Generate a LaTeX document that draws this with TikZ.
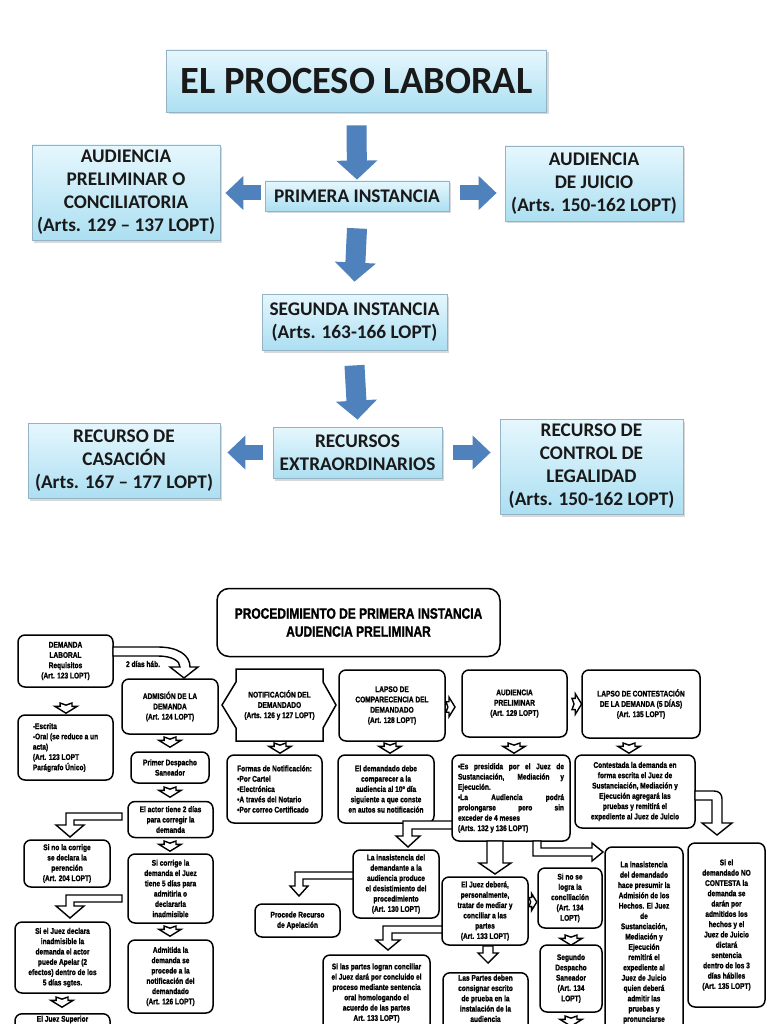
\documentclass[tikz,border=0pt]{standalone}
\usepackage{fontspec}
\setmainfont{Carlito}
\newfontfamily\nar[FakeStretch=0.8, BoldFont={Liberation Sans Bold}, BoldFeatures={FakeStretch=0.8, FakeBold=1.3}]{Liberation Sans}
\usetikzlibrary{arrows.meta,calc,shadows}
\definecolor{boxtop}{HTML}{E6F7FD}
\definecolor{boxbot}{HTML}{ACDFF2}
\definecolor{boxedge}{HTML}{94B3C4}
\definecolor{arrblue}{HTML}{4F81BD}
\newcommand\narr[3]{\draw[harr, shift={(#1)}, rotate=#2, scale=#3] (-7,0) -- (0,2.5) -- (7,0) -- (7,4) -- (13,4) -- (0,12) -- (-13,4) -- (-7,4) -- cycle;}
\begin{document}
\begin{tikzpicture}[x=1pt,y=-1pt,
  tbox/.style={draw=boxedge, line width=0.8pt, top color=boxtop, bottom color=boxbot, align=center, inner sep=2pt,
    drop shadow={shadow xshift=2pt,shadow yshift=-2.5pt,opacity=0.3},
    font=\bfseries\fontsize{19.3}{23}\selectfont, text=black!90},
  tb/.style 2 args={tbox, minimum width=#1, minimum height=#2},
  vblue/.style={draw=arrblue, line width=20pt, -{Triangle[width=40pt,length=19pt]}},
  hblue/.style={draw=arrblue, line width=15pt, -{Triangle[width=33pt,length=18pt]}},
  bodyf/.style={font=\nar\bfseries\fontsize{8.2}{10.3}\selectfont},
  rb/.style={draw, line width=1.5pt, rounded corners=7pt, fill=white, align=center, inner sep=2pt, bodyf},
  bx/.style 2 args={rb, minimum width=#1, minimum height=#2},
  harr/.style={draw, line width=1.4pt, fill=white, line join=miter},
  shapeline/.style={draw, line width=1.5pt, fill=white, line join=miter}
]
\useasboundingbox (0,0) rectangle (768,1024);
\clip (0,0) rectangle (768,1024);
\fill[white] (0,0) rectangle (768,1024);

% ---------------- upper diagram ----------------
\node[tb={380pt}{62pt}, font=\bfseries\fontsize{38.5}{44}\selectfont] (title) at (356.5,81) {EL PROCESO LABORAL};
\node[tb={184pt}{30pt}] (prim) at (357,196) {PRIMERA INSTANCIA};
\node[tb={188pt}{95pt}] (aud1) at (126,192.5) {AUDIENCIA\\PRELIMINAR O\\CONCILIATORIA\\(Arts. 129 – 137 LOPT)};
\node[tb={178pt}{75pt}] (aud2) at (594,183.5) {AUDIENCIA\\DE JUICIO\\(Arts. 150-162 LOPT)};
\node[tb={185pt}{56pt}] (seg) at (354.5,322) {SEGUNDA INSTANCIA\\(Arts. 163-166 LOPT)};
\node[tb={169pt}{51pt}] (rec) at (357.5,452.5) {RECURSOS\\EXTRAORDINARIOS};
\node[tb={192pt}{75pt}] (cas) at (124,460.5) {RECURSO DE\\CASACIÓN\\(Arts. 167 – 177 LOPT)};
\node[tb={183pt}{95pt}] (ctrl) at (591.5,466.5) {RECURSO DE\\CONTROL DE\\LEGALIDAD\\(Arts. 150-162 LOPT)};

\draw[vblue] ($(title.south)+(0,13)$) -- ($(prim.north)+(0,-1)$);
\draw[hblue] ($(prim.west)+(-4,-3)$) -- ($(prim.west -| aud1.east)+(5,-3)$);
\draw[hblue] ($(prim.east)+(11,-3)$) -- ($(prim.east -| aud2.west)+(-8,-3)$);
\draw[vblue] ($(prim.south)+(0,17)$) -- ($(seg.north)+(0,-12)$);
\draw[vblue] ($(seg.south)+(0,15)$) -- ($(rec.north)+(0,-7)$);
\draw[hblue] ($(rec.west)+(-10,0)$) -- ($(rec.west -| cas.east)+(7,0)$);
\draw[hblue] ($(rec.east)+(11,0)$) -- ($(rec.east -| ctrl.west)+(-9,0)$);

% ---------------- lower diagram ----------------
\node[rb, minimum width=283pt, minimum height=68pt, rounded corners=12pt,
  font=\nar\bfseries\fontsize{15}{18}\selectfont] (ptitle) at (358.5,622.5)
  {PROCEDIMIENTO DE PRIMERA INSTANCIA\\AUDIENCIA PRELIMINAR};

\node[bx={95pt}{52pt}] (dem) at (65.5,661) {DEMANDA\\LABORAL\\Requisitos\\(Art. 123 LOPT)};
\node[bx={96pt}{55pt}] (adm) at (170,706.5) {ADMISIÓN DE LA\\DEMANDA\\(Art. 124 LOPT)};
\node[bx={95pt}{65pt}, align=left] (escr) at (65.5,747.5) {-Escrita\\-Oral (se reduce a un\\acta)\\(Art. 123 LOPT\\Parágrafo Único)};
\node[bx={78pt}{31pt}] (pds) at (170,767.5) {Primer Despacho\\Saneador};
\node[bx={85pt}{36pt}] (actor) at (170.5,819.5) {El actor tiene 2 días\\para corregir la\\demanda};
\node[bx={86pt}{47pt}] (sinocorr) at (67,863.5) {Si no la corrige\\se declara la\\perención\\(Art. 204 LOPT)};
\node[bx={85pt}{69pt}] (sicorr) at (170.5,888.5) {Si corrige la\\demanda el Juez\\tiene 5 días para\\admitirla o\\declararla\\inadmisible};
\node[bx={95pt}{71pt}] (sijuez) at (62.5,957.5) {Si el Juez declara\\inadmisible la\\demanda el actor\\puede Apelar (2\\efectos) dentro de los\\5 días sgtes.};
\node[bx={85pt}{73pt}] (admitida) at (170.5,976.5) {Admitida la\\demanda se\\procede a la\\notificación del\\demandado\\(Art. 126 LOPT)};
\node[rb, minimum width=95pt, anchor=north] (juezsup) at (62.5,1013) {El Juez Superior\\\rule{0pt}{30pt}};

\node[bodyf] (lbl) at (143,664) {2 días háb.};
\draw[harr] (113,647) -- (158,647) .. controls (178,647) and (190,655) .. (190,667) -- (198,667) -- (184,678) -- (170,667) -- (180,667) .. controls (180,661) and (172,656) .. (158,656) -- (113,656) -- cycle;

% notification double arrow
\coordinate (nc) at (279.5,705);
\draw[shapeline] (nc) ++(-43.5,-36) -- ++(87,0) -- ++(0,13) -- ++(13,23) -- ++(-13,23) -- ++(0,13) -- ++(-87,0) -- ++(0,-13) -- ++(-14,-23) -- ++(14,-23) -- cycle;
\node[align=center, bodyf] (notif) at (nc) {NOTIFICACIÓN DEL\\DEMANDADO\\(Arts. 126 y 127 LOPT)};

\node[bx={106pt}{71pt}] (lcomp) at (392,705.5) {LAPSO DE\\COMPARECENCIA DEL\\DEMANDADO\\(Art. 128 LOPT)};
\node[bx={105pt}{67pt}] (audp) at (514.5,703.5) {AUDIENCIA\\PRELIMINAR\\(Art. 129 LOPT)};
\node[bx={118pt}{68pt}] (lcont) at (641,704) {LAPSO DE CONTESTACIÓN\\DE LA DEMANDA (5 DÍAS)\\(Art. 135 LOPT)};

\node[bx={95pt}{68pt}, align=left] (formas) at (274.5,789) {Formas de Notificación:\\•Por Cartel\\•Electrónica\\•A través del Notario\\•Por correo Certificado};
\node[bx={96pt}{68pt}] (edeb) at (386,789) {El demandado debe\\comparecer a la\\audiencia al 10º día\\siguiente a que conste\\en autos su notificación};
\node[bx={118pt}{86pt}, align=left] (espres) at (511,798) {\makebox[106pt][s]{•Es presidida por el Juez de}\\\makebox[106pt][s]{Sustanciación, Mediación y}\\Ejecución.\\\makebox[106pt][s]{•La Audiencia podrá}\\\makebox[106pt][s]{prolongarse pero sin}\\exceder de 4 meses\\(Arts. 132 y 136 LOPT)};
\node[bx={120pt}{73pt}] (contest) at (635,791.5) {Contestada la demanda en\\forma escrita el Juez de\\Sustanciación, Mediación y\\Ejecución agregará las\\pruebas y remitirá el\\expediente al Juez de Juicio};
\node[bx={77pt}{164pt}] (sinocont) at (726.5,925) {Si el\\demandado NO\\CONTESTA la\\demanda se\\darán por\\admitidos los\\hechos y el\\Juez de Juicio\\dictará\\sentencia\\dentro de los 3\\días hábiles\\(Art. 135 LOPT)};
\node[bx={86pt}{68pt}] (inasdte) at (396,884) {La inasistencia del\\demandante a la\\audiencia produce\\el desistimiento del\\procedimiento\\(Art. 130 LOPT)};
\node[bx={85pt}{33pt}] (procede) at (297.5,920.5) {Procede Recurso\\de Apelación};
\node[bx={86pt}{68pt}] (juezdeb) at (485,911) {El Juez deberá,\\personalmente,\\tratar de mediar y\\conciliar a las\\partes\\(Art. 133 LOPT)};
\node[bx={64pt}{60pt}] (sinolog) at (570,898) {Si no se\\logra la\\conciliación\\(Art. 134\\LOPT)};
\node[bx={62pt}{67pt}] (segdesp) at (571,978.5) {Segundo\\Despacho\\Saneador\\(Art. 134\\LOPT)};
\node[bx={78pt}{191pt}] (inasdo) at (644,942.5) {La inasistencia\\del demandado\\hace presumir la\\Admisión de los\\Hechos. El Juez\\de\\Sustanciación,\\Mediación y\\Ejecución\\remitirá el\\expediente al\\Juez de Juicio\\quien deberá\\admitir las\\pruebas y\\pronunciarse};
\node[bx={107pt}{76pt}] (silas) at (376.5,993) {Si las partes logran conciliar\\el Juez dará por concluido el\\proceso mediante sentencia\\oral homologando el\\acuerdo de las partes\\Art. 133 LOPT)};
\node[rb, minimum width=85pt, anchor=north] (laspartes) at (485.5,972) {Las Partes deben\\consignar escrito\\de prueba en la\\instalación de la\\audiencia\\\rule{0pt}{14pt}};

% small notched arrows
\narr{66,703}{0}{0.85}
\narr{170,737}{0}{0.85}
\narr{170,787}{0}{0.85}
\narr{170,841}{0}{0.85}
\narr{170,926}{0}{0.85}
\narr{62,997}{0}{0.85}
\narr{280,743}{0}{0.85}
\narr{390,743}{0}{0.85}
\narr{514,743}{0}{0.85}
\narr{629,743}{0}{0.85}
\narr{571,935}{0}{0.85}
\narr{571,1016}{0}{0.85}
\narr{446,707}{90}{0.75}
\narr{572,704}{90}{0.8}
\narr{529,902}{90}{0.65}

% bent hollow arrows
\draw[harr] (122,813) -- (66,813) -- (66,825) -- (56,825) -- (70,837) -- (84,825) -- (74,825) -- (74,820) -- (122,820) -- cycle;
\draw[harr] (122,895) -- (66,895) -- (66,906) -- (56,906) -- (70,918) -- (84,906) -- (74,906) -- (74,902) -- (122,902) -- cycle;
\draw[harr] (695,791) -- (714,791) .. controls (719,791) and (722,794) .. (722,799) -- (722,823) -- (732,823) -- (717,835) -- (702,823) -- (712,823) -- (712,800) -- (695,800) -- cycle;
\draw[harr] (452,821) -- (403,821) -- (403,836) -- (396,836) -- (408,847) -- (420,836) -- (412,836) -- (412,829) -- (452,829) -- cycle;
\draw[harr] (353,872) -- (295,872) -- (295,886) -- (290,886) -- (299,896) -- (308,886) -- (303,886) -- (303,879) -- (353,879) -- cycle;
\draw[harr] (442,926) -- (383,926) -- (383,940) -- (376,940) -- (388,950) -- (400,940) -- (392,940) -- (392,933) -- (442,933) -- cycle;
\draw[harr] (533,841) -- (533,856) -- (592,856) -- (592,861) -- (603,852) -- (592,843) -- (592,848) -- (541,848) -- (541,841) -- cycle;
\draw[harr] (487,841) -- (487,863) -- (479,863) -- (495,874) -- (511,863) -- (503,863) -- (503,841) -- cycle;
\draw[harr] (483,946) -- (483,953) -- (478,953) -- (488,963) -- (498,953) -- (493,953) -- (493,946) -- cycle;
\end{tikzpicture}
\end{document}
